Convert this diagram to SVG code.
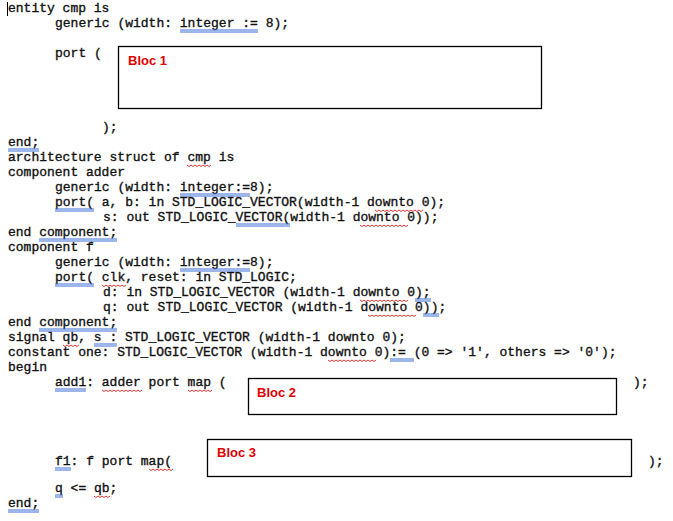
<svg xmlns="http://www.w3.org/2000/svg" width="673" height="521" viewBox="0 0 673 521">
<style>
.c{font-family:"Liberation Mono","Courier New",monospace;font-size:13px;fill:#111;stroke:#111;stroke-width:0.35;white-space:pre}
.b{fill:#fff;stroke:#000;stroke-width:1.3}
.l{font-family:"Liberation Sans",Arial,sans-serif;font-size:13px;font-weight:bold;fill:#e00000}
.u{stroke:#3a6fd8;stroke-width:1;fill:none}
.w{stroke:#e02020;stroke-width:0.9;fill:none}
</style>
<rect width="673" height="521" fill="#fff"/>
<line x1="7.5" y1="2" x2="7.5" y2="16" stroke="#000" stroke-width="1"/>
<g id="code">
<text class="c" x="8" y="12">entity cmp is</text>
<text class="c" x="55" y="27">generic (width: integer := 8);</text>
<text class="c" x="55" y="57">port (</text>
<text class="c" x="102" y="131">);</text>
<text class="c" x="8" y="146">end;</text>
<text class="c" x="8" y="161">architecture struct of cmp is</text>
<text class="c" x="8" y="176">component adder</text>
<text class="c" x="55" y="191">generic (width: integer:=8);</text>
<text class="c" x="55" y="206">port( a, b: in STD_LOGIC_VECTOR(width-1 downto 0);</text>
<text class="c" x="103" y="221">s: out STD_LOGIC_VECTOR(width-1 downto 0));</text>
<text class="c" x="8" y="236">end component;</text>
<text class="c" x="8" y="251">component f</text>
<text class="c" x="55" y="266">generic (width: integer:=8);</text>
<text class="c" x="55" y="281">port( clk, reset: in STD_LOGIC;</text>
<text class="c" x="103" y="296">d: in STD_LOGIC_VECTOR (width-1 downto 0);</text>
<text class="c" x="103" y="311">q: out STD_LOGIC_VECTOR (width-1 downto 0));</text>
<text class="c" x="8" y="326">end component;</text>
<text class="c" x="8" y="341">signal qb, s : STD_LOGIC_VECTOR (width-1 downto 0);</text>
<text class="c" x="8" y="356">constant one: STD_LOGIC_VECTOR (width-1 downto 0):= (0 =&gt; '1', others =&gt; '0');</text>
<text class="c" x="8" y="371">begin</text>
<text class="c" x="55" y="386">add1: adder port map (</text>
<text class="c" x="633" y="386">);</text>
<text class="c" x="55" y="465">f1: f port map(</text>
<text class="c" x="648" y="465">);</text>
<text class="c" x="55" y="492">q &lt;= qb;</text>
<text class="c" x="8" y="507">end;</text>
</g>
<g id="underlines">
<path class="u" d="M180 30h78M180 32h78M8 149h31M8 151h31M180 194h70M180 196h70M55 209h39M55 211h39M236 224h54M236 226h54M39 239h78M39 241h78M180 269h70M180 271h70M55 284h39M55 286h39M415 299h16M415 301h16M423 314h16M423 316h16M39 329h78M39 331h78M94 344h23M94 346h23M390 359h24M390 361h24M55 389h31M55 391h31M55 468h16M55 470h16M55 495h8M55 497h8M8 510h31M8 512h31"/>
<path class="w" d="M187 165l2 1.5 2-1.5 2 1.5 2-1.5 2 1.5 2-1.5 2 1.5 2-1.5 2 1.5 2-1.5 2 1.5 2-1.5
M375 210l2 1.5 2-1.5 2 1.5 2-1.5 2 1.5 2-1.5 2 1.5 2-1.5 2 1.5 2-1.5 2 1.5 2-1.5 2 1.5 2-1.5 2 1.5 2-1.5 2 1.5 2-1.5 2 1.5 2-1.5 2 1.5 2-1.5 2 1.5 2-1.5
M360 225l2 1.5 2-1.5 2 1.5 2-1.5 2 1.5 2-1.5 2 1.5 2-1.5 2 1.5 2-1.5 2 1.5 2-1.5 2 1.5 2-1.5 2 1.5 2-1.5 2 1.5 2-1.5 2 1.5 2-1.5 2 1.5 2-1.5 2 1.5 2-1.5
M102 285l2 1.5 2-1.5 2 1.5 2-1.5 2 1.5 2-1.5 2 1.5 2-1.5 2 1.5 2-1.5 2 1.5 2-1.5
M360 300l2 1.5 2-1.5 2 1.5 2-1.5 2 1.5 2-1.5 2 1.5 2-1.5 2 1.5 2-1.5 2 1.5 2-1.5 2 1.5 2-1.5 2 1.5 2-1.5 2 1.5 2-1.5 2 1.5 2-1.5 2 1.5 2-1.5 2 1.5 2-1.5
M368 315l2 1.5 2-1.5 2 1.5 2-1.5 2 1.5 2-1.5 2 1.5 2-1.5 2 1.5 2-1.5 2 1.5 2-1.5 2 1.5 2-1.5 2 1.5 2-1.5 2 1.5 2-1.5 2 1.5 2-1.5 2 1.5 2-1.5 2 1.5 2-1.5
M63 345l2 1.5 2-1.5 2 1.5 2-1.5 2 1.5 2-1.5 2 1.5 2-1.5
M328 360l2 1.5 2-1.5 2 1.5 2-1.5 2 1.5 2-1.5 2 1.5 2-1.5 2 1.5 2-1.5 2 1.5 2-1.5 2 1.5 2-1.5 2 1.5 2-1.5 2 1.5 2-1.5 2 1.5 2-1.5 2 1.5 2-1.5 2 1.5 2-1.5
M102 390l2 1.5 2-1.5 2 1.5 2-1.5 2 1.5 2-1.5 2 1.5 2-1.5 2 1.5 2-1.5 2 1.5 2-1.5 2 1.5 2-1.5 2 1.5 2-1.5 2 1.5 2-1.5 2 1.5 2-1.5
M188 390l2 1.5 2-1.5 2 1.5 2-1.5 2 1.5 2-1.5 2 1.5 2-1.5 2 1.5 2-1.5 2 1.5 2-1.5
M149 469l2 1.5 2-1.5 2 1.5 2-1.5 2 1.5 2-1.5 2 1.5 2-1.5 2 1.5 2-1.5 2 1.5 2-1.5
M94 496l2 1.5 2-1.5 2 1.5 2-1.5 2 1.5 2-1.5 2 1.5 2-1.5"/>
</g>
<g id="bloc1"><rect class="b" x="118.5" y="46.5" width="423" height="62"/><text class="l" x="128" y="65">Bloc 1</text></g>
<g id="bloc2"><rect class="b" x="248.5" y="378.5" width="368" height="36"/><text class="l" x="257" y="397">Bloc 2</text></g>
<g id="bloc3"><rect class="b" x="207.5" y="439.5" width="424" height="37"/><text class="l" x="217" y="457">Bloc 3</text></g>
</svg>
